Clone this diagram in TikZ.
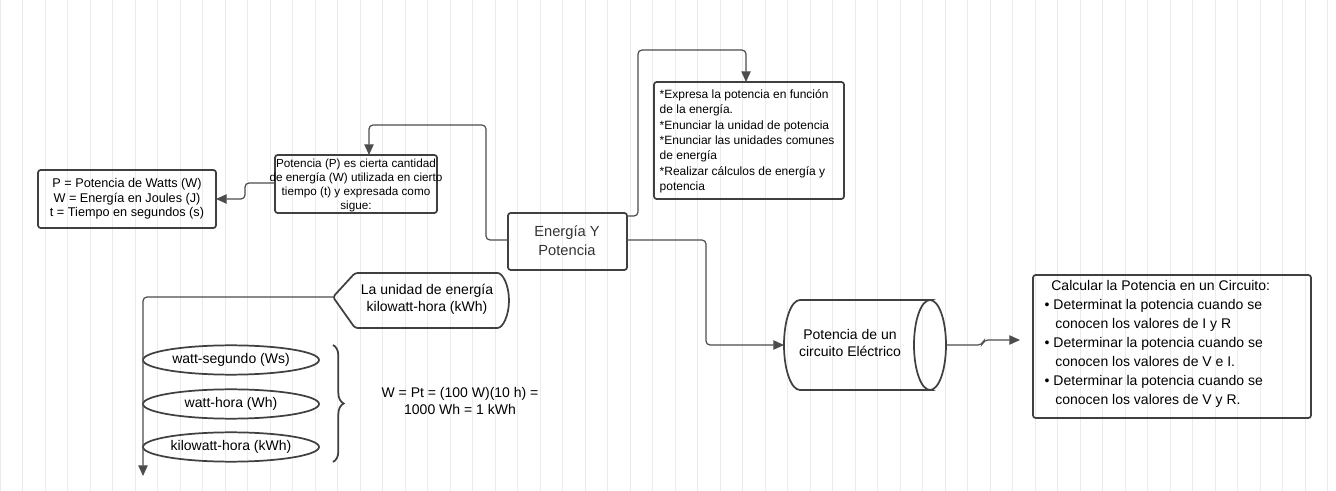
\documentclass[tikz,border=0pt]{standalone}
\usepackage{fontspec}
\setmainfont{Liberation Sans}
\usetikzlibrary{shapes.geometric,shapes.symbols,decorations.pathreplacing,arrows.meta}
\begin{document}
\begin{tikzpicture}[x=0.75pt,y=-0.75pt,
  box/.style={draw=black!75,line width=1.3pt,rounded corners=2pt,align=center,inner sep=2pt},
  conn/.style={draw=black!70,line width=0.9pt,rounded corners=3pt,-{Triangle[length=8pt,width=7pt]}}]
\useasboundingbox (0,0) rectangle (1336,491);
\draw[black!8,line width=0.4pt] (0,0) grid[step=22.5] (1336,491);
% boxes
\draw[box] (38,170) rectangle (216,228);
\node[align=center,font=\fontsize{9.5}{11}\selectfont] (pw) at (127,199) {P = Potencia de Watts (W)\\W = Energía en Joules (J)\\t = Tiempo en segundos (s)};
\coordinate (pwE) at (216,199);
\draw[box] (275,155) rectangle (437,213);
\node[align=center,font=\fontsize{8.8}{10.5}\selectfont] (pot) at (356,185) {Potencia (P) es cierta cantidad\\de energía (W) utilizada en cierto\\tiempo (t) y expresada como\\sigue:};
\coordinate (potW) at (275,183); \coordinate (potN) at (369,155);
\draw[box] (654,82) rectangle (844,199);
\node[align=left,anchor=north west,font=\fontsize{9}{11.5}\selectfont] (exp) at (655,85) {*Expresa la potencia en función\\de la energía.\\*Enunciar la unidad de potencia\\*Enunciar las unidades comunes\\de energía\\*Realizar cálculos de energía y\\potencia};
\coordinate (expN) at (746,82);
\draw[box] (508,213) rectangle (627,270);
\node[align=center,font=\fontsize{11}{14}\selectfont,text=black!80] (ey) at (567,241) {Energía Y\\Potencia};
\coordinate (eyW) at (508,240); \coordinate (eyE) at (627,240); \coordinate (eyNE) at (627,216);
% display shape
\draw[black!75,line width=1.3pt,rounded corners=2pt] (333,297) -- (355,273) -- (495,273) arc[start angle=90,end angle=-90,x radius=10.5pt,y radius=20.6pt] -- (355,328) -- cycle;
\node[align=center,font=\fontsize{10.5}{13}\selectfont] (un) at (427,299) {La unidad de energía\\kilowatt-hora (kWh)};
\coordinate (unW) at (333,297);
% ellipses
\foreach \n/\y/\txt in {e1/360/watt-segundo (Ws),e2/404/watt-hora (Wh),e3/447/kilowatt-hora (kWh)}{
  \node[draw=black!75,line width=1.3pt,ellipse,minimum width=132pt,minimum height=22pt,inner sep=0pt,font=\fontsize{10.5}{12}\selectfont] (\n) at (231,\y) {\txt};}
\draw[black!75,line width=1.3pt,decorate,decoration={brace,amplitude=8pt}] (333,345) -- (333,462);
\node[align=center,font=\fontsize{10.5}{13}\selectfont] (eq) at (460,401) {W = Pt = (100 W)(10 h) =\\1000 Wh = 1 kWh};
% cylinder
\draw[black!75,line width=1.3pt] (800,300) -- (930,300) arc[start angle=90,end angle=270,x radius=12pt,y radius=33.75pt] -- (800,390) arc[start angle=270,end angle=90,x radius=12pt,y radius=33.75pt];
\draw[black!75,line width=1.3pt] (930,300) arc[start angle=90,end angle=-90,x radius=12pt,y radius=33.75pt];
\node[align=center,font=\fontsize{10.5}{13}\selectfont] (cyl) at (850,343) {Potencia de un\\circuito Eléctrico};
\coordinate (cylW) at (784,345); \coordinate (cylE) at (946,345);
% calcular
\draw[box] (1033,275) rectangle (1311,418);
\node[align=left,anchor=north west,font=\fontsize{10.5}{14.2}\selectfont] (calc) at (1040,276) {\hspace*{5pt}Calcular la Potencia en un Circuito:\\• Determinat la potencia cuando se\\\hspace*{8pt}conocen los valores de I y R\\• Determinar la potencia cuando se\\\hspace*{8pt}conocen los valores de V e I.\\• Determinar la potencia cuando se\\\hspace*{8pt}conocen los valores de V y R.};
\coordinate (calcW) at (1020,340);
% connectors
\draw[conn] (potW) -- (245,183) -- (245,199) -- (pwE);
\draw[conn] (eyW) -- (486,240) -- (486,125) -- (369,125) -- (potN);
\draw[conn] (eyNE) -- (638,216) -- (638,50) -- (746,50) -- (expN);
\draw[conn] (eyE) -- (706,240) -- (706,345) -- (cylW);
\draw[conn] (cylE) -- (982,345) -- (984,340) -- (calcW);
\coordinate (dn) at (143,476);
\draw[conn] (unW) -- (143,297) -- (dn);
\end{tikzpicture}
\end{document}
